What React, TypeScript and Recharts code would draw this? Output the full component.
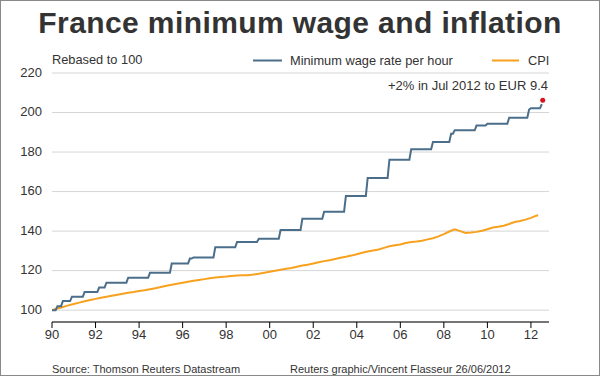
import { LineChart, Line, XAxis, YAxis, CartesianGrid, ReferenceDot } from "recharts";

// Minimum wage (hourly, rebased Jan 1990 = 100): month index from Jan 1990 at which each rise applies
const wageChangeMonths = [0, 3, 6, 11, 18, 26, 30, 42, 54, 66, 76, 78, 90, 102, 114, 126, 138, 150, 162, 174, 186, 198, 210, 220, 222, 234, 240, 252, 263, 264, 270];
const wageChangeValues = [100, 102.0, 104.6, 106.8, 109.2, 111.4, 113.9, 116.4, 118.9, 123.6, 126.1, 126.7, 131.8, 134.5, 136.1, 140.5, 146.2, 149.8, 157.7, 166.9, 176.1, 181.4, 185.1, 189.3, 191.0, 193.4, 194.3, 197.4, 201.5, 202.2, 204.3];

// CPI, quarterly readings (Jan 1990 = 100)
const cpiQuarterly = [
  100.0, 100.8, 101.6, 102.4,
  103.1, 103.8, 104.5, 105.1,
  105.7, 106.3, 106.8, 107.3,
  107.8, 108.3, 108.8, 109.2,
  109.7, 110.1, 110.6, 111.1,
  111.7, 112.3, 112.9, 113.4,
  113.9, 114.4, 114.9, 115.3,
  115.7, 116.1, 116.5, 116.8,
  117.0, 117.3, 117.5, 117.6,
  117.7, 118.0, 118.4, 118.9,
  119.4, 119.9, 120.4, 120.9,
  121.3, 122.0, 122.6, 123.0,
  123.6, 124.2, 124.8, 125.3,
  125.9, 126.5, 127.0, 127.6,
  128.3, 129.0, 129.7, 130.2,
  130.7, 131.5, 132.3, 132.8,
  133.2, 134.0, 134.5, 134.7,
  135.1, 135.8, 136.4, 137.3,
  138.5, 139.8, 140.9, 140.0,
  139.1, 139.3, 139.6, 140.2,
  140.9, 141.8, 142.2, 142.7,
  143.6, 144.6, 145.1, 145.8,
  146.7, 147.8,
];
const cpiLastMonth = 268;
const cpiLastValue = 148.0;

// Jul 2012 minimum wage: EUR 9.40
const latestMonth = 270.5;
const latestValue = 206.2;

const yTicks = [100, 120, 140, 160, 180, 200, 220];
const xTicks = [1990, 1992, 1994, 1996, 1998, 2000, 2002, 2004, 2006, 2008, 2010, 2012];

const wageName = "Minimum wage rate per hour";
const cpiName = "CPI";

const WAGE_COLOR = "#4b6f8b";
const CPI_COLOR = "#f7a11e";
const FONT = "'Liberation Sans', Arial, sans-serif";

const toYear = (m: number) => 1990 + m / 12;

const wageData: { year: number; wage: number }[] = [];
for (let m = 0; m <= wageChangeMonths[wageChangeMonths.length - 1]; m++) {
  let v = wageChangeValues[0];
  wageChangeMonths.forEach((cm, i) => {
    if (cm <= m) v = wageChangeValues[i];
  });
  wageData.push({ year: toYear(m), wage: v });
}

const cpiData = cpiQuarterly.map((v, i) => ({ year: toYear(i * 3), cpi: v }));
cpiData.push({ year: toYear(cpiLastMonth), cpi: cpiLastValue });

export default function App() {
  return (
    <div style={{ position: "absolute", left: 0, top: 0, width: 600, height: 376, background: "#fff", fontFamily: FONT }}>
      <LineChart width={600} height={376} margin={{ top: 73, right: 51, bottom: 24, left: 0 }}>
        <CartesianGrid horizontal vertical={false} stroke="#d6d6d6" />
        <XAxis
          type="number"
          dataKey="year"
          domain={[1990, 2012.83]}
          ticks={xTicks}
          tickFormatter={(v: number) => String(v % 100).padStart(2, "0")}
          height={30}
          stroke="#000"
          tickSize={6}
          tickMargin={2}
          tick={{ fill: "#333", fontSize: 13, fontFamily: FONT }}
          allowDataOverflow
        />
        <YAxis
          type="number"
          domain={[94, 220]}
          ticks={yTicks}
          width={52}
          axisLine={false}
          tickLine={false}
          tickSize={0}
          tickMargin={10}
          interval={0}
          tick={{ fill: "#333", fontSize: 13, fontFamily: FONT, dy: -1 }}
          allowDataOverflow
        />
        <Line data={cpiData} dataKey="cpi" type="linear" stroke={CPI_COLOR} strokeWidth={2} dot={false} isAnimationActive={false} />
        <Line data={wageData} dataKey="wage" type="linear" stroke={WAGE_COLOR} strokeWidth={2} dot={false} isAnimationActive={false} />
        <ReferenceDot x={toYear(latestMonth)} y={latestValue} r={2.5} fill="#d7141e" stroke="none" />
      </LineChart>
      <svg width={600} height={376} style={{ position: "absolute", left: 0, top: 0, pointerEvents: "none" }} fontFamily={FONT}>
        <rect x={0.5} y={0.5} width={599} height={375} fill="none" stroke="#8a8a8a" />
        <text x={300} y={33} textAnchor="middle" fontSize={30} fontWeight="bold" fill="#333" letterSpacing={0.4}>
          France minimum wage and inflation
        </text>
        <text x={52} y={64} fontSize={12.8} fill="#333">Rebased to 100</text>
        <line x1={253} x2={282} y1={60.5} y2={60.5} stroke={WAGE_COLOR} strokeWidth={2} />
        <text x={290} y={65} fontSize={12.8} fill="#333">{wageName}</text>
        <line x1={492} x2={519} y1={60.5} y2={60.5} stroke={CPI_COLOR} strokeWidth={2} />
        <text x={528} y={65} fontSize={12.8} fill="#333">{cpiName}</text>
        <text x={548} y={90} textAnchor="end" fontSize={13} fill="#333">+2% in Jul 2012 to EUR 9.4</text>
        <text x={52} y={373} fontSize={11} fill="#333">Source: Thomson Reuters Datastream</text>
        <text x={290} y={373} fontSize={11} fill="#333">Reuters graphic/Vincent Flasseur 26/06/2012</text>
      </svg>
    </div>
  );
}
